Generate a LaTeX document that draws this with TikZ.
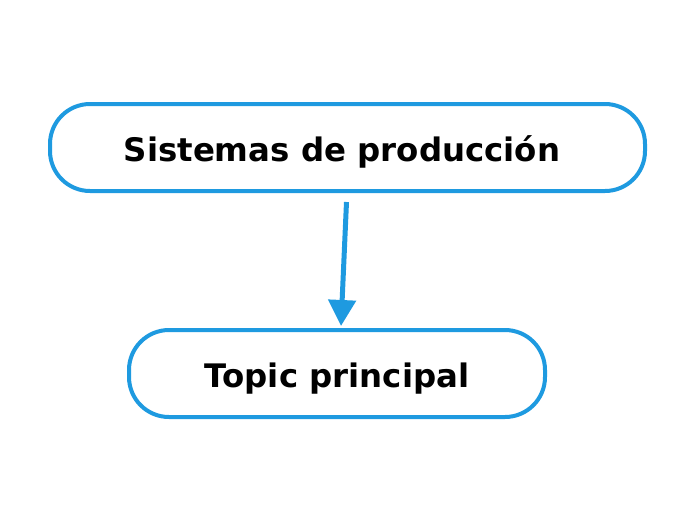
\documentclass[tikz,border=0pt]{standalone}
\usepackage{fontspec}
\setmainfont{DejaVu Sans}
\usetikzlibrary{arrows.meta}
\definecolor{topicblue}{HTML}{1E9AE0}
\begin{document}
\begin{tikzpicture}[x=1pt,y=-1pt,
  topicbox/.style={draw=topicblue, line width=4pt, fill=white, rounded corners=40pt,
    minimum height=87pt, inner sep=0pt, text height=27pt, text depth=0pt,
    font=\fontsize{32.4}{38}\selectfont\bfseries},
  link/.style={draw=topicblue, line width=5pt, -{Triangle[width=27pt,length=26pt]}}]
\useasboundingbox (0,0) rectangle (696,520);
\node[topicbox, minimum width=595pt] (main) at (347.5,147.5) {Sistemas de producción\kern11pt\relax};
\node[topicbox, minimum width=416pt] (sub) at (337,373.5) {Topic principal};
\coordinate (start) at (346.5,202);
\draw[link] (start) -- (341,326) coordinate (end);
\end{tikzpicture}
\end{document}
